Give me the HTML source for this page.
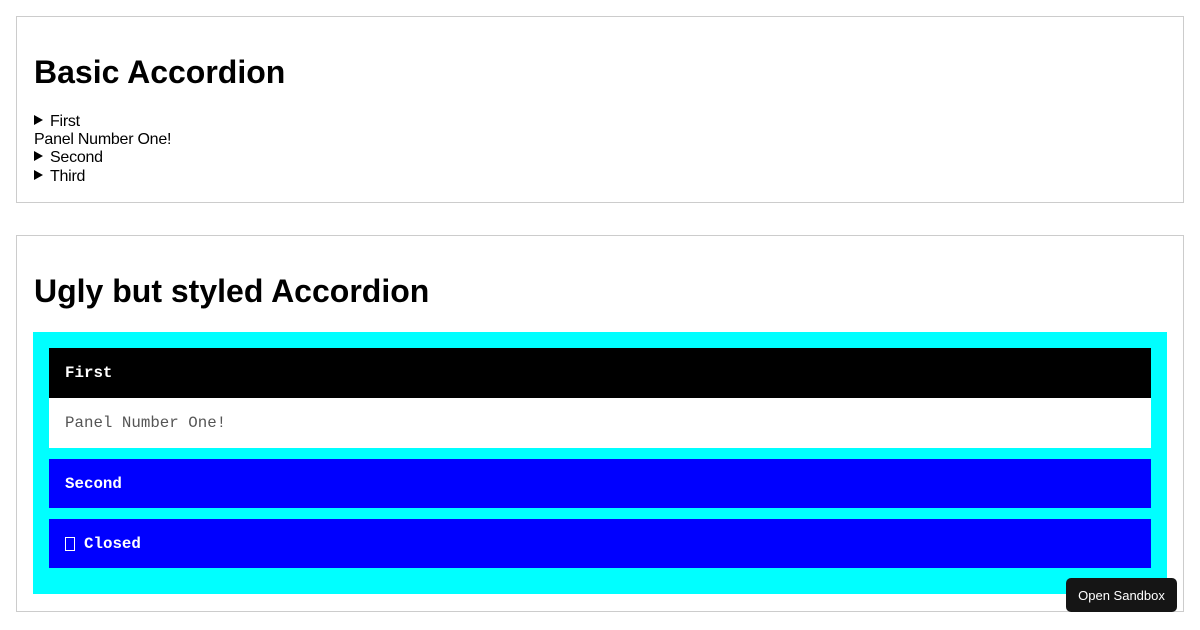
<!DOCTYPE html>
<html><head><meta charset="utf-8"><style>
*{margin:0;padding:0;box-sizing:border-box}
body{width:1200px;height:630px;background:#fff;position:relative;font-family:"Liberation Sans",sans-serif;color:#000;overflow:hidden}
.box{position:absolute;left:16px;width:1168px;border:1px solid #ccc}
h1{position:absolute;left:17px;font-size:32px;font-weight:bold;line-height:40px}
.l{position:absolute;left:17px;font-size:16px;line-height:18px;letter-spacing:-0.25px}
.tri{display:inline-block;width:0;height:0;border-left:9px solid #000;border-top:5px solid transparent;border-bottom:5px solid transparent;margin-right:7px;vertical-align:1px}
.r{position:absolute;left:49px;width:1102px;font-family:"Liberation Mono",monospace;font-size:15.8px;padding-left:16px;display:flex;align-items:center}
.b{font-weight:bold;color:#fff}
.q{display:inline-block;width:10px;height:14px;border:1px solid #fff;margin-right:9px}
</style></head><body>
<div class="box" style="top:16px;height:187px">
<h1 style="top:35px">Basic Accordion</h1>
<div class="l" style="top:96px"><span class="tri"></span>First</div>
<div class="l" style="top:114px">Panel Number One!</div>
<div class="l" style="top:132px"><span class="tri"></span>Second</div>
<div class="l" style="top:151px"><span class="tri"></span>Third</div>
</div>
<div class="box" style="top:235px;height:377px">
<h1 style="top:35px">Ugly but styled Accordion</h1>
</div>
<div style="position:absolute;left:33px;top:332px;width:1134px;height:262px;background:#0ff"></div>
<div class="r b" style="top:348px;height:50px;background:#000">First</div>
<div class="r" style="top:398px;height:50px;background:#fff;color:#555">Panel Number One!</div>
<div class="r b" style="top:459px;height:49px;background:#00f">Second</div>
<div class="r b" style="top:519px;height:49px;background:#00f"><span class="q"></span>Closed</div>
<div style="position:absolute;left:1066px;top:578px;width:111px;height:34px;background:#151515;border-radius:5px;color:#fff;font-size:13px;display:flex;align-items:center;justify-content:center">Open Sandbox</div>
</body></html>
